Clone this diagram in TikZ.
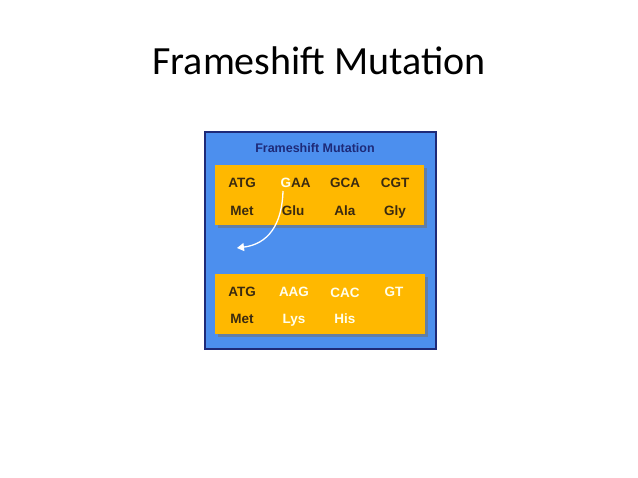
\documentclass[tikz,border=0pt]{standalone}
\usepackage{fontspec}
\setmainfont{Carlito}
\newfontfamily\arial{Liberation Sans}
\usetikzlibrary{shadows,arrows.meta}
\definecolor{navy}{HTML}{1E2A78}
\definecolor{skyb}{HTML}{4C8FEE}
\definecolor{gold}{HTML}{FFB800}
\definecolor{txt}{HTML}{3A2A10}
\begin{document}
\begin{tikzpicture}[x=1pt,y=-1pt,
  panel/.style={fill=gold,draw=none,drop shadow={shadow xshift=3pt,shadow yshift=-3pt,fill=black!55,opacity=0.6}},
  cod/.style={font=\arial\bfseries\fontsize{13.5}{15}\selectfont,text=txt,anchor=base},
  wcod/.style={cod,text=white!92!yellow}]
\useasboundingbox (0,0) rectangle (638,478);
\node (title) at (319,61) {\fontsize{40}{44}\selectfont Frameshift Mutation};
\node[draw=navy,line width=2pt,fill=skyb,minimum width=231pt,minimum height=217pt,anchor=north west] (outer) at (204,131) {};
\node[text=navy,font=\arial\bfseries\fontsize{12.5}{14}\selectfont] (sub) at (315,148) {Frameshift Mutation};
\node[panel,minimum width=209pt,minimum height=60pt,anchor=north west] (top) at (215,165) {};
\node[panel,minimum width=210pt,minimum height=60pt,anchor=north west] (bot) at (215,274) {};
\node[cod] (a1) at (242,188) {ATG};
\node[cod,anchor=base west] (a2) at (277,188) {\textcolor{white!92!yellow}{G}AA};
\node[cod] (a3) at (345,188) {GCA};
\node[cod] (a4) at (395,188) {CGT};
\node[cod] (b1) at (242,216) {Met};
\node[cod] (b2) at (293,216) {Glu};
\node[cod] (b3) at (345,216) {Ala};
\node[cod] (b4) at (395,216) {Gly};
\node[cod] (c1) at (242,297) {ATG};
\node[wcod] (c2) at (294,297) {AAG};
\node[wcod] (c3) at (345,298) {CAC};
\node[wcod] (c4) at (394,297) {GT};
\node[cod] (d1) at (242,324) {Met};
\node[wcod] (d2) at (294,324) {Lys};
\node[wcod] (d3) at (345,324) {His};
\coordinate (from) at (283,191);
\coordinate (to) at (237,248);
\draw[white,line width=1.3pt,-{Triangle[width=8pt,length=7pt]}] (from) .. controls (282,225) and (268,244) .. (to);
\end{tikzpicture}
\end{document}
